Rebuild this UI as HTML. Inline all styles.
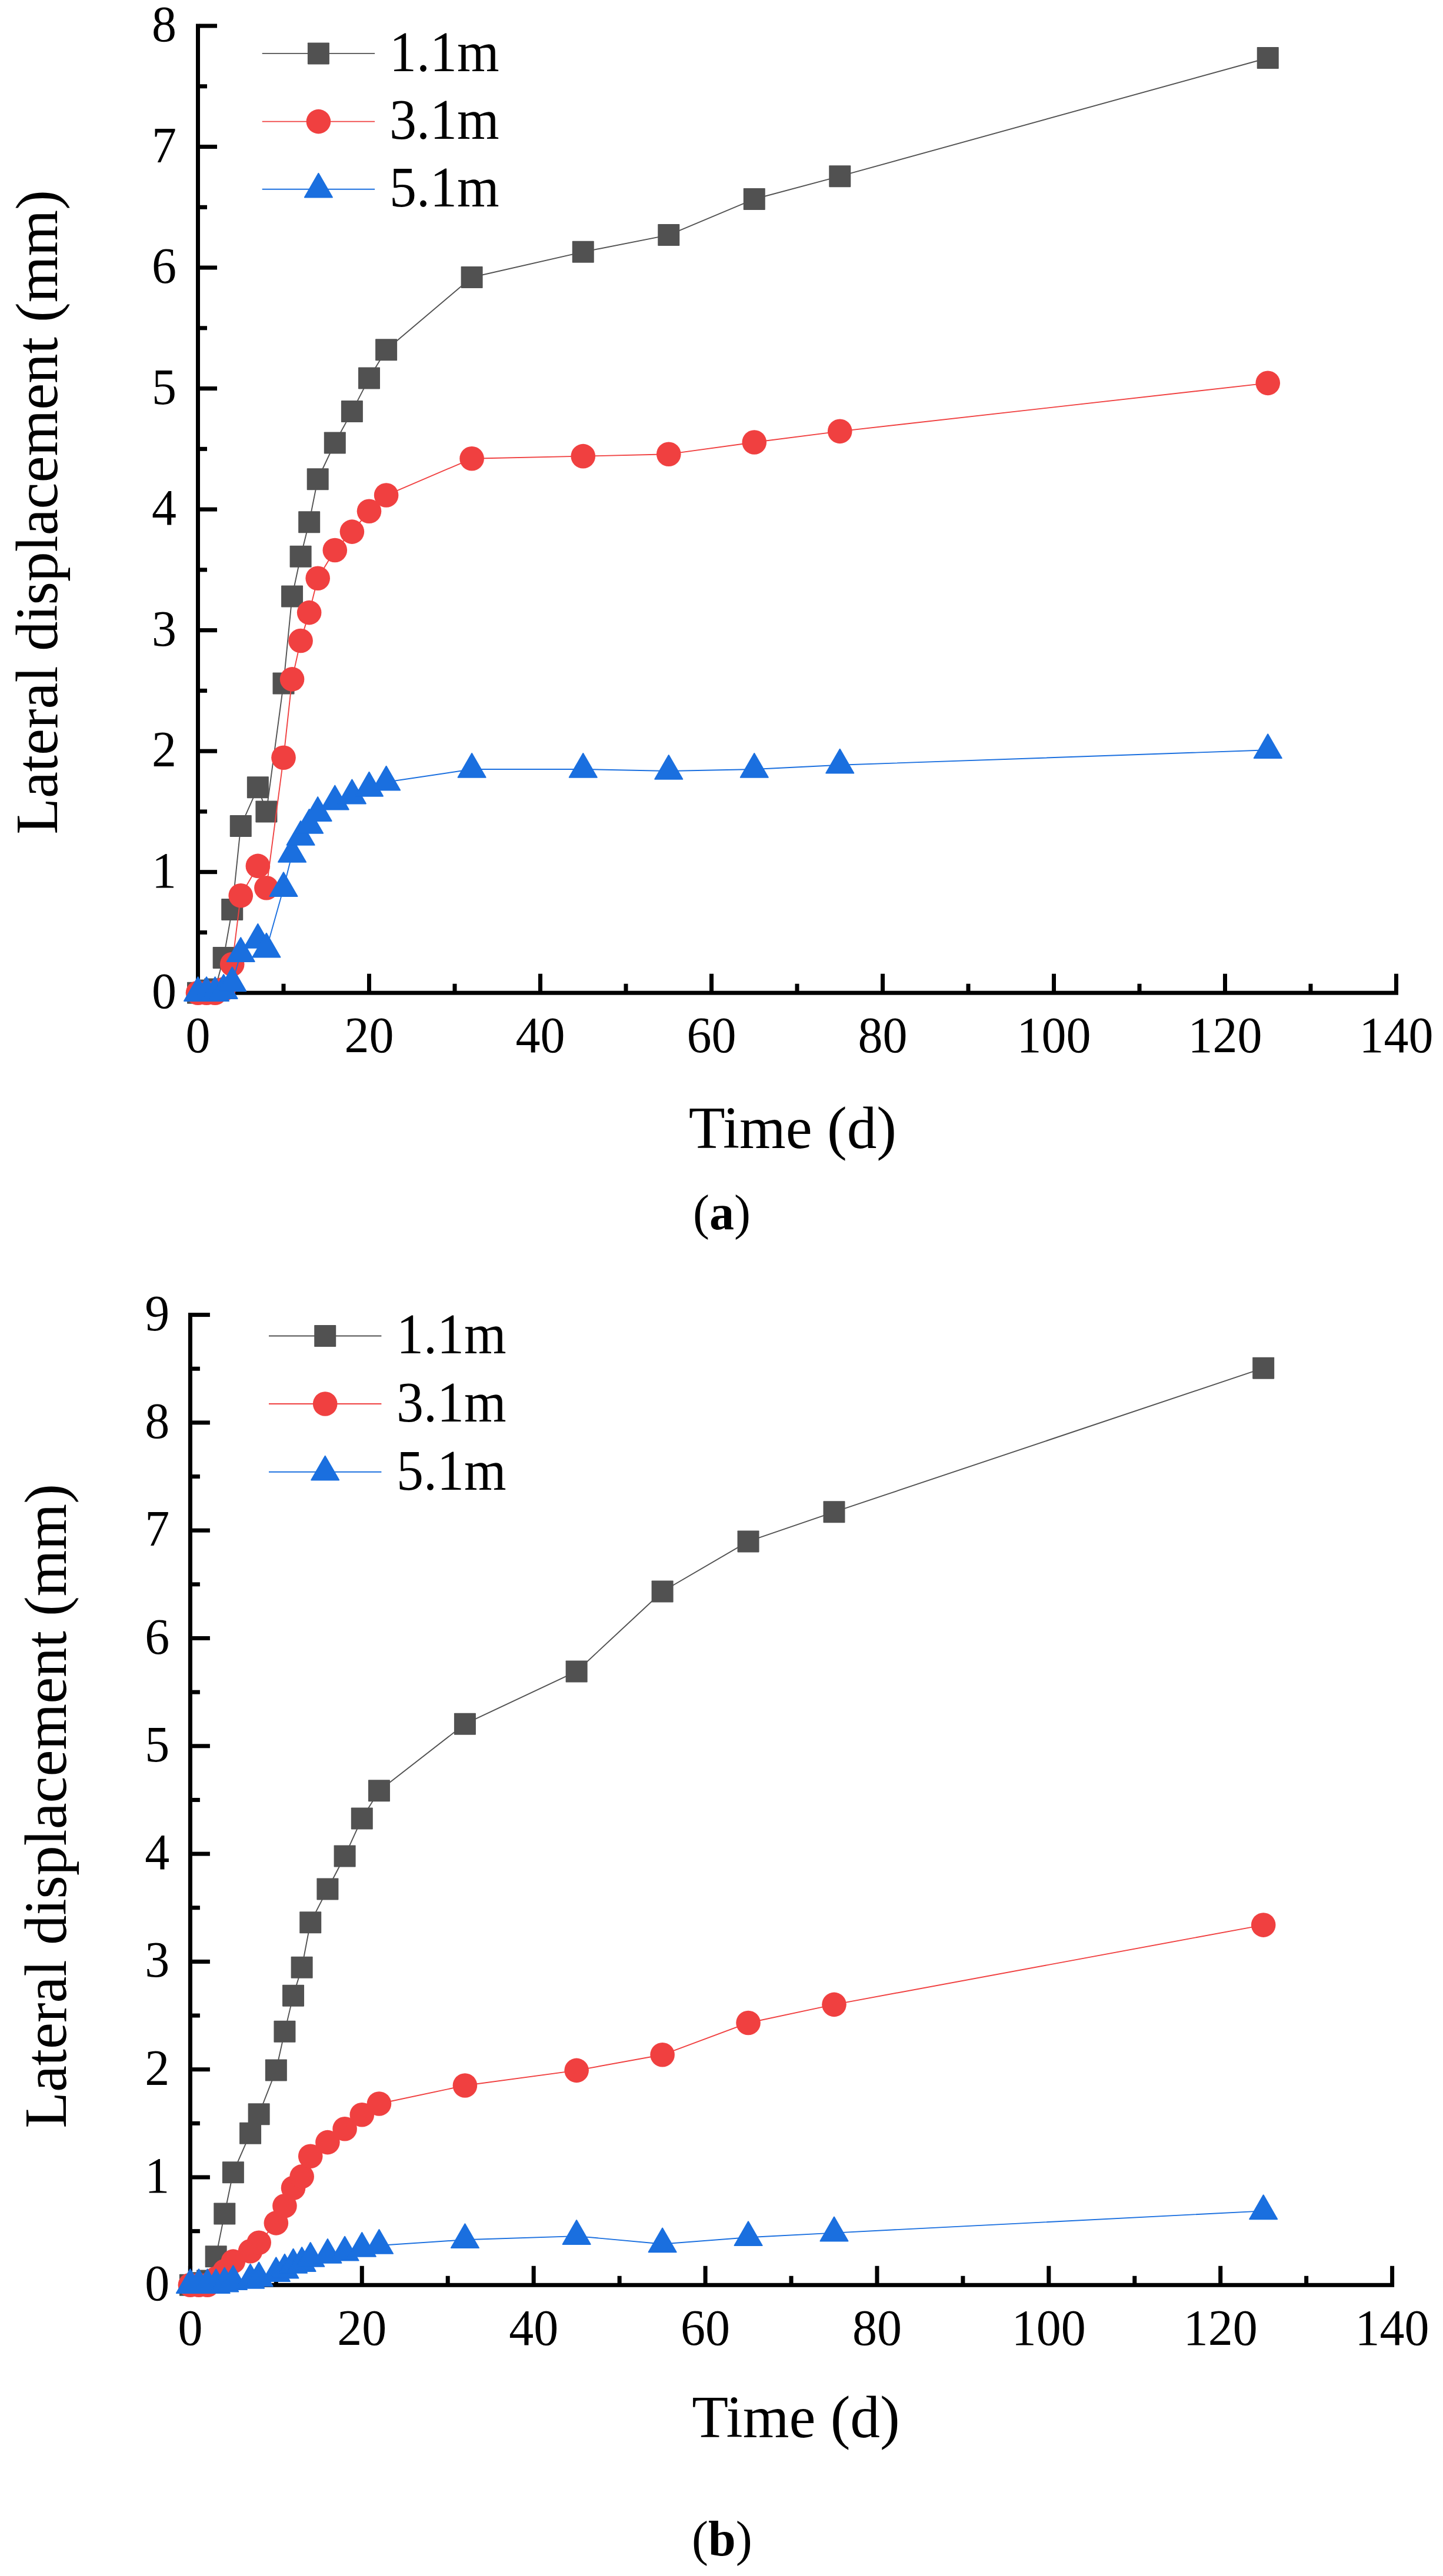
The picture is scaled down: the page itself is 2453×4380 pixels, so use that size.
<!DOCTYPE html>
<html lang="en"><head><meta charset="utf-8"><title>Lateral displacement versus time</title>
<style>html,body{margin:0;padding:0;background:#fff}body{width:2453px;height:4380px;overflow:hidden}svg{display:block}text{font-family:"Liberation Serif",serif;fill:#000}</style></head><body>
<svg width="2453" height="4380" viewBox="0 0 2453 4380">
<rect width="2453" height="4380" fill="#fff"/>
<g id="chart-a">
<g fill="#000">
<rect x="333" y="40.5" width="7" height="1651.2"/>
<rect x="333" y="1684.7" width="2044" height="7"/>
<rect x="339.5" y="1684.7" width="29.5" height="7"/>
<rect x="339.5" y="1581.94" width="12.5" height="7"/>
<rect x="339.5" y="1479.17" width="29.5" height="7"/>
<rect x="339.5" y="1376.41" width="12.5" height="7"/>
<rect x="339.5" y="1273.65" width="29.5" height="7"/>
<rect x="339.5" y="1170.89" width="12.5" height="7"/>
<rect x="339.5" y="1068.12" width="29.5" height="7"/>
<rect x="339.5" y="965.36" width="12.5" height="7"/>
<rect x="339.5" y="862.6" width="29.5" height="7"/>
<rect x="339.5" y="759.84" width="12.5" height="7"/>
<rect x="339.5" y="657.08" width="29.5" height="7"/>
<rect x="339.5" y="554.31" width="12.5" height="7"/>
<rect x="339.5" y="451.55" width="29.5" height="7"/>
<rect x="339.5" y="348.79" width="12.5" height="7"/>
<rect x="339.5" y="246.03" width="29.5" height="7"/>
<rect x="339.5" y="143.26" width="12.5" height="7"/>
<rect x="339.5" y="40.5" width="29.5" height="7"/>
<rect x="333" y="1655.7" width="7" height="29.5"/>
<rect x="478.5" y="1672.7" width="7" height="12.5"/>
<rect x="624" y="1655.7" width="7" height="29.5"/>
<rect x="769.5" y="1672.7" width="7" height="12.5"/>
<rect x="915" y="1655.7" width="7" height="29.5"/>
<rect x="1060.5" y="1672.7" width="7" height="12.5"/>
<rect x="1206" y="1655.7" width="7" height="29.5"/>
<rect x="1351.5" y="1672.7" width="7" height="12.5"/>
<rect x="1497" y="1655.7" width="7" height="29.5"/>
<rect x="1642.5" y="1672.7" width="7" height="12.5"/>
<rect x="1788" y="1655.7" width="7" height="29.5"/>
<rect x="1933.5" y="1672.7" width="7" height="12.5"/>
<rect x="2079" y="1655.7" width="7" height="29.5"/>
<rect x="2224.5" y="1672.7" width="7" height="12.5"/>
<rect x="2370" y="1655.7" width="7" height="29.5"/>
</g>
<g font-size="84" fill="#000">
<text transform="translate(299.9 1714.2) scale(1 1.035)" text-anchor="end">0</text>
<text transform="translate(299.9 1508.67) scale(1 1.035)" text-anchor="end">1</text>
<text transform="translate(299.9 1303.15) scale(1 1.035)" text-anchor="end">2</text>
<text transform="translate(299.9 1097.62) scale(1 1.035)" text-anchor="end">3</text>
<text transform="translate(299.9 892.1) scale(1 1.035)" text-anchor="end">4</text>
<text transform="translate(299.9 686.58) scale(1 1.035)" text-anchor="end">5</text>
<text transform="translate(299.9 481.05) scale(1 1.035)" text-anchor="end">6</text>
<text transform="translate(299.9 275.53) scale(1 1.035)" text-anchor="end">7</text>
<text transform="translate(299.9 70) scale(1 1.035)" text-anchor="end">8</text>
<text transform="translate(336.5 1789.4) scale(1 1.035)" text-anchor="middle">0</text>
<text transform="translate(627.5 1789.4) scale(1 1.035)" text-anchor="middle">20</text>
<text transform="translate(918.5 1789.4) scale(1 1.035)" text-anchor="middle">40</text>
<text transform="translate(1209.5 1789.4) scale(1 1.035)" text-anchor="middle">60</text>
<text transform="translate(1500.5 1789.4) scale(1 1.035)" text-anchor="middle">80</text>
<text transform="translate(1791.5 1789.4) scale(1 1.035)" text-anchor="middle">100</text>
<text transform="translate(2082.5 1789.4) scale(1 1.035)" text-anchor="middle">120</text>
<text transform="translate(2373.5 1789.4) scale(1 1.035)" text-anchor="middle">140</text>
</g>
<text font-size="101.2" text-anchor="middle" transform="translate(97 871) rotate(-90)">Lateral displacement (mm)</text>
<text font-size="101.2" text-anchor="middle" x="1347.4" y="1952.4">Time (d)</text>
<text font-size="84" text-anchor="middle" x="1227" y="2089.8">(<tspan font-weight="bold">a</tspan>)</text>
<polyline fill="none" stroke="#515151" stroke-width="1.9" stroke-linejoin="round" points="336.5,1688.2 351.05,1684.09 365.6,1682.03 380.15,1628.39 394.7,1546.39 409.25,1404.58 438.35,1338.81 452.9,1379.91 482,1162.06 496.55,1014.08 511.1,946.25 525.65,887.68 540.2,814.72 569.3,753.06 598.4,699.62 627.5,643.11 656.6,594.81 802.1,471.49 991.25,428.33 1136.75,399.56 1282.25,338.52 1427.75,299.67 2155.25,98.46"/>
<g><rect x="318" y="1669.7" width="37" height="37" rx="0.8" fill="#515151"/><rect x="332.55" y="1665.59" width="37" height="37" rx="0.8" fill="#515151"/><rect x="347.1" y="1663.53" width="37" height="37" rx="0.8" fill="#515151"/><rect x="361.65" y="1609.89" width="37" height="37" rx="0.8" fill="#515151"/><rect x="376.2" y="1527.89" width="37" height="37" rx="0.8" fill="#515151"/><rect x="390.75" y="1386.08" width="37" height="37" rx="0.8" fill="#515151"/><rect x="419.85" y="1320.31" width="37" height="37" rx="0.8" fill="#515151"/><rect x="434.4" y="1361.41" width="37" height="37" rx="0.8" fill="#515151"/><rect x="463.5" y="1143.56" width="37" height="37" rx="0.8" fill="#515151"/><rect x="478.05" y="995.58" width="37" height="37" rx="0.8" fill="#515151"/><rect x="492.6" y="927.75" width="37" height="37" rx="0.8" fill="#515151"/><rect x="507.15" y="869.18" width="37" height="37" rx="0.8" fill="#515151"/><rect x="521.7" y="796.22" width="37" height="37" rx="0.8" fill="#515151"/><rect x="550.8" y="734.56" width="37" height="37" rx="0.8" fill="#515151"/><rect x="579.9" y="681.12" width="37" height="37" rx="0.8" fill="#515151"/><rect x="609" y="624.61" width="37" height="37" rx="0.8" fill="#515151"/><rect x="638.1" y="576.31" width="37" height="37" rx="0.8" fill="#515151"/><rect x="783.6" y="452.99" width="37" height="37" rx="0.8" fill="#515151"/><rect x="972.75" y="409.83" width="37" height="37" rx="0.8" fill="#515151"/><rect x="1118.25" y="381.06" width="37" height="37" rx="0.8" fill="#515151"/><rect x="1263.75" y="320.02" width="37" height="37" rx="0.8" fill="#515151"/><rect x="1409.25" y="281.17" width="37" height="37" rx="0.8" fill="#515151"/><rect x="2136.75" y="79.96" width="37" height="37" rx="0.8" fill="#515151"/></g>
<polyline fill="none" stroke="#F04040" stroke-width="1.9" stroke-linejoin="round" points="336.5,1688.2 351.05,1688.2 365.6,1688.2 380.15,1682.03 394.7,1639.49 409.25,1522.75 438.35,1472.4 452.9,1509.8 482,1288.25 496.55,1154.86 511.1,1089.51 525.65,1041.62 540.2,983.25 569.3,935.57 598.4,904.12 627.5,869.18 656.6,842.05 802.1,779.78 991.25,775.67 1136.75,772.18 1282.25,752.03 1427.75,733.33 2155.25,651.33"/>
<g><circle cx="336.5" cy="1688.2" r="20.8" fill="#F04040"/><circle cx="351.05" cy="1688.2" r="20.8" fill="#F04040"/><circle cx="365.6" cy="1688.2" r="20.8" fill="#F04040"/><circle cx="380.15" cy="1682.03" r="20.8" fill="#F04040"/><circle cx="394.7" cy="1639.49" r="20.8" fill="#F04040"/><circle cx="409.25" cy="1522.75" r="20.8" fill="#F04040"/><circle cx="438.35" cy="1472.4" r="20.8" fill="#F04040"/><circle cx="452.9" cy="1509.8" r="20.8" fill="#F04040"/><circle cx="482" cy="1288.25" r="20.8" fill="#F04040"/><circle cx="496.55" cy="1154.86" r="20.8" fill="#F04040"/><circle cx="511.1" cy="1089.51" r="20.8" fill="#F04040"/><circle cx="525.65" cy="1041.62" r="20.8" fill="#F04040"/><circle cx="540.2" cy="983.25" r="20.8" fill="#F04040"/><circle cx="569.3" cy="935.57" r="20.8" fill="#F04040"/><circle cx="598.4" cy="904.12" r="20.8" fill="#F04040"/><circle cx="627.5" cy="869.18" r="20.8" fill="#F04040"/><circle cx="656.6" cy="842.05" r="20.8" fill="#F04040"/><circle cx="802.1" cy="779.78" r="20.8" fill="#F04040"/><circle cx="991.25" cy="775.67" r="20.8" fill="#F04040"/><circle cx="1136.75" cy="772.18" r="20.8" fill="#F04040"/><circle cx="1282.25" cy="752.03" r="20.8" fill="#F04040"/><circle cx="1427.75" cy="733.33" r="20.8" fill="#F04040"/><circle cx="2155.25" cy="651.33" r="20.8" fill="#F04040"/></g>
<polyline fill="none" stroke="#1A6FDF" stroke-width="1.9" stroke-linejoin="round" points="336.5,1688.2 351.05,1688.2 365.6,1688.2 380.15,1684.09 394.7,1671.55 409.25,1621.2 438.35,1597.97 452.9,1613.8 482,1510.22 496.55,1452.05 511.1,1423.07 525.65,1402.93 540.2,1382.17 569.3,1362.65 598.4,1352.58 627.5,1339.84 656.6,1329.76 802.1,1307.98 991.25,1307.98 1136.75,1311.06 1282.25,1307.98 1427.75,1300.79 2155.25,1275.3"/>
<g><path d="M336.5 1661.2L360 1702L313 1702Z" fill="#1A6FDF" stroke="#1A6FDF" stroke-width="2" stroke-linejoin="round"/><path d="M351.05 1661.2L374.55 1702L327.55 1702Z" fill="#1A6FDF" stroke="#1A6FDF" stroke-width="2" stroke-linejoin="round"/><path d="M365.6 1661.2L389.1 1702L342.1 1702Z" fill="#1A6FDF" stroke="#1A6FDF" stroke-width="2" stroke-linejoin="round"/><path d="M380.15 1657.09L403.65 1697.89L356.65 1697.89Z" fill="#1A6FDF" stroke="#1A6FDF" stroke-width="2" stroke-linejoin="round"/><path d="M394.7 1644.55L418.2 1685.35L371.2 1685.35Z" fill="#1A6FDF" stroke="#1A6FDF" stroke-width="2" stroke-linejoin="round"/><path d="M409.25 1594.2L432.75 1635L385.75 1635Z" fill="#1A6FDF" stroke="#1A6FDF" stroke-width="2" stroke-linejoin="round"/><path d="M438.35 1570.97L461.85 1611.77L414.85 1611.77Z" fill="#1A6FDF" stroke="#1A6FDF" stroke-width="2" stroke-linejoin="round"/><path d="M452.9 1586.8L476.4 1627.6L429.4 1627.6Z" fill="#1A6FDF" stroke="#1A6FDF" stroke-width="2" stroke-linejoin="round"/><path d="M482 1483.22L505.5 1524.02L458.5 1524.02Z" fill="#1A6FDF" stroke="#1A6FDF" stroke-width="2" stroke-linejoin="round"/><path d="M496.55 1425.05L520.05 1465.85L473.05 1465.85Z" fill="#1A6FDF" stroke="#1A6FDF" stroke-width="2" stroke-linejoin="round"/><path d="M511.1 1396.07L534.6 1436.87L487.6 1436.87Z" fill="#1A6FDF" stroke="#1A6FDF" stroke-width="2" stroke-linejoin="round"/><path d="M525.65 1375.93L549.15 1416.73L502.15 1416.73Z" fill="#1A6FDF" stroke="#1A6FDF" stroke-width="2" stroke-linejoin="round"/><path d="M540.2 1355.17L563.7 1395.97L516.7 1395.97Z" fill="#1A6FDF" stroke="#1A6FDF" stroke-width="2" stroke-linejoin="round"/><path d="M569.3 1335.65L592.8 1376.45L545.8 1376.45Z" fill="#1A6FDF" stroke="#1A6FDF" stroke-width="2" stroke-linejoin="round"/><path d="M598.4 1325.58L621.9 1366.38L574.9 1366.38Z" fill="#1A6FDF" stroke="#1A6FDF" stroke-width="2" stroke-linejoin="round"/><path d="M627.5 1312.84L651 1353.64L604 1353.64Z" fill="#1A6FDF" stroke="#1A6FDF" stroke-width="2" stroke-linejoin="round"/><path d="M656.6 1302.76L680.1 1343.56L633.1 1343.56Z" fill="#1A6FDF" stroke="#1A6FDF" stroke-width="2" stroke-linejoin="round"/><path d="M802.1 1280.98L825.6 1321.78L778.6 1321.78Z" fill="#1A6FDF" stroke="#1A6FDF" stroke-width="2" stroke-linejoin="round"/><path d="M991.25 1280.98L1014.75 1321.78L967.75 1321.78Z" fill="#1A6FDF" stroke="#1A6FDF" stroke-width="2" stroke-linejoin="round"/><path d="M1136.75 1284.06L1160.25 1324.86L1113.25 1324.86Z" fill="#1A6FDF" stroke="#1A6FDF" stroke-width="2" stroke-linejoin="round"/><path d="M1282.25 1280.98L1305.75 1321.78L1258.75 1321.78Z" fill="#1A6FDF" stroke="#1A6FDF" stroke-width="2" stroke-linejoin="round"/><path d="M1427.75 1273.79L1451.25 1314.59L1404.25 1314.59Z" fill="#1A6FDF" stroke="#1A6FDF" stroke-width="2" stroke-linejoin="round"/><path d="M2155.25 1248.3L2178.75 1289.1L2131.75 1289.1Z" fill="#1A6FDF" stroke="#1A6FDF" stroke-width="2" stroke-linejoin="round"/></g>
<g font-size="92" fill="#000">
<line x1="445.7" y1="90.9" x2="637.1" y2="90.9" stroke="#515151" stroke-width="1.9"/>
<rect x="522.9" y="72.4" width="37" height="37" rx="0.8" fill="#515151"/>
<text transform="translate(662 120.5) scale(1 1.05)">1.1m</text>
<line x1="445.7" y1="206.6" x2="637.1" y2="206.6" stroke="#F04040" stroke-width="1.9"/>
<circle cx="541.4" cy="206.6" r="20.8" fill="#F04040"/>
<text transform="translate(662 235.6) scale(1 1.05)">3.1m</text>
<line x1="445.7" y1="321.8" x2="637.1" y2="321.8" stroke="#1A6FDF" stroke-width="1.9"/>
<path d="M541.4 294.8L564.9 335.6L517.9 335.6Z" fill="#1A6FDF" stroke="#1A6FDF" stroke-width="2" stroke-linejoin="round"/>
<text transform="translate(662 351) scale(1 1.05)">5.1m</text>
</g>
</g>
<g id="chart-b">
<g fill="#000">
<rect x="319.9" y="2232.1" width="7" height="1656.7"/>
<rect x="319.9" y="3881.8" width="2050.2" height="7"/>
<rect x="326.4" y="3881.8" width="30.5" height="7"/>
<rect x="326.4" y="3790.15" width="13.5" height="7"/>
<rect x="326.4" y="3698.5" width="30.5" height="7"/>
<rect x="326.4" y="3606.85" width="13.5" height="7"/>
<rect x="326.4" y="3515.2" width="30.5" height="7"/>
<rect x="326.4" y="3423.55" width="13.5" height="7"/>
<rect x="326.4" y="3331.9" width="30.5" height="7"/>
<rect x="326.4" y="3240.25" width="13.5" height="7"/>
<rect x="326.4" y="3148.6" width="30.5" height="7"/>
<rect x="326.4" y="3056.95" width="13.5" height="7"/>
<rect x="326.4" y="2965.3" width="30.5" height="7"/>
<rect x="326.4" y="2873.65" width="13.5" height="7"/>
<rect x="326.4" y="2782" width="30.5" height="7"/>
<rect x="326.4" y="2690.35" width="13.5" height="7"/>
<rect x="326.4" y="2598.7" width="30.5" height="7"/>
<rect x="326.4" y="2507.05" width="13.5" height="7"/>
<rect x="326.4" y="2415.4" width="30.5" height="7"/>
<rect x="326.4" y="2323.75" width="13.5" height="7"/>
<rect x="326.4" y="2232.1" width="30.5" height="7"/>
<rect x="319.9" y="3852.8" width="7" height="29.5"/>
<rect x="465.84" y="3869.8" width="7" height="12.5"/>
<rect x="611.79" y="3852.8" width="7" height="29.5"/>
<rect x="757.73" y="3869.8" width="7" height="12.5"/>
<rect x="903.67" y="3852.8" width="7" height="29.5"/>
<rect x="1049.61" y="3869.8" width="7" height="12.5"/>
<rect x="1195.56" y="3852.8" width="7" height="29.5"/>
<rect x="1341.5" y="3869.8" width="7" height="12.5"/>
<rect x="1487.44" y="3852.8" width="7" height="29.5"/>
<rect x="1633.39" y="3869.8" width="7" height="12.5"/>
<rect x="1779.33" y="3852.8" width="7" height="29.5"/>
<rect x="1925.27" y="3869.8" width="7" height="12.5"/>
<rect x="2071.21" y="3852.8" width="7" height="29.5"/>
<rect x="2217.16" y="3869.8" width="7" height="12.5"/>
<rect x="2363.1" y="3852.8" width="7" height="29.5"/>
</g>
<g font-size="84" fill="#000">
<text transform="translate(288.2 3911.3) scale(1 1.035)" text-anchor="end">0</text>
<text transform="translate(288.2 3728) scale(1 1.035)" text-anchor="end">1</text>
<text transform="translate(288.2 3544.7) scale(1 1.035)" text-anchor="end">2</text>
<text transform="translate(288.2 3361.4) scale(1 1.035)" text-anchor="end">3</text>
<text transform="translate(288.2 3178.1) scale(1 1.035)" text-anchor="end">4</text>
<text transform="translate(288.2 2994.8) scale(1 1.035)" text-anchor="end">5</text>
<text transform="translate(288.2 2811.5) scale(1 1.035)" text-anchor="end">6</text>
<text transform="translate(288.2 2628.2) scale(1 1.035)" text-anchor="end">7</text>
<text transform="translate(288.2 2444.9) scale(1 1.035)" text-anchor="end">8</text>
<text transform="translate(288.2 2261.6) scale(1 1.035)" text-anchor="end">9</text>
<text transform="translate(323.4 3986.5) scale(1 1.035)" text-anchor="middle">0</text>
<text transform="translate(615.29 3986.5) scale(1 1.035)" text-anchor="middle">20</text>
<text transform="translate(907.17 3986.5) scale(1 1.035)" text-anchor="middle">40</text>
<text transform="translate(1199.06 3986.5) scale(1 1.035)" text-anchor="middle">60</text>
<text transform="translate(1490.94 3986.5) scale(1 1.035)" text-anchor="middle">80</text>
<text transform="translate(1782.83 3986.5) scale(1 1.035)" text-anchor="middle">100</text>
<text transform="translate(2074.71 3986.5) scale(1 1.035)" text-anchor="middle">120</text>
<text transform="translate(2366.6 3986.5) scale(1 1.035)" text-anchor="middle">140</text>
</g>
<text font-size="101.2" text-anchor="middle" transform="translate(112 3071) rotate(-90)">Lateral displacement (mm)</text>
<text font-size="101.2" text-anchor="middle" x="1353" y="4144">Time (d)</text>
<text font-size="84" text-anchor="middle" x="1227.4" y="4345">(<tspan font-weight="bold">b</tspan>)</text>
<polyline fill="none" stroke="#515151" stroke-width="1.9" stroke-linejoin="round" points="323.4,3885.3 337.99,3881.63 352.59,3877.97 367.18,3836.73 381.78,3763.96 396.37,3693.75 425.56,3627.21 440.15,3594.77 469.34,3519.98 483.94,3454.36 498.53,3393.14 513.13,3345.3 527.72,3268.86 556.91,3212.04 586.1,3155.95 615.29,3091.98 644.47,3044.87 790.42,2931.22 980.14,2841.96 1126.09,2705.95 1272.03,2620.9 1417.97,2570.86 2147.69,2326.15"/>
<g><rect x="304.9" y="3866.8" width="37" height="37" rx="0.8" fill="#515151"/><rect x="319.49" y="3863.13" width="37" height="37" rx="0.8" fill="#515151"/><rect x="334.09" y="3859.47" width="37" height="37" rx="0.8" fill="#515151"/><rect x="348.68" y="3818.23" width="37" height="37" rx="0.8" fill="#515151"/><rect x="363.28" y="3745.46" width="37" height="37" rx="0.8" fill="#515151"/><rect x="377.87" y="3675.25" width="37" height="37" rx="0.8" fill="#515151"/><rect x="407.06" y="3608.71" width="37" height="37" rx="0.8" fill="#515151"/><rect x="421.65" y="3576.27" width="37" height="37" rx="0.8" fill="#515151"/><rect x="450.84" y="3501.48" width="37" height="37" rx="0.8" fill="#515151"/><rect x="465.44" y="3435.86" width="37" height="37" rx="0.8" fill="#515151"/><rect x="480.03" y="3374.64" width="37" height="37" rx="0.8" fill="#515151"/><rect x="494.63" y="3326.8" width="37" height="37" rx="0.8" fill="#515151"/><rect x="509.22" y="3250.36" width="37" height="37" rx="0.8" fill="#515151"/><rect x="538.41" y="3193.54" width="37" height="37" rx="0.8" fill="#515151"/><rect x="567.6" y="3137.45" width="37" height="37" rx="0.8" fill="#515151"/><rect x="596.79" y="3073.48" width="37" height="37" rx="0.8" fill="#515151"/><rect x="625.97" y="3026.37" width="37" height="37" rx="0.8" fill="#515151"/><rect x="771.92" y="2912.72" width="37" height="37" rx="0.8" fill="#515151"/><rect x="961.64" y="2823.46" width="37" height="37" rx="0.8" fill="#515151"/><rect x="1107.59" y="2687.45" width="37" height="37" rx="0.8" fill="#515151"/><rect x="1253.53" y="2602.4" width="37" height="37" rx="0.8" fill="#515151"/><rect x="1399.47" y="2552.36" width="37" height="37" rx="0.8" fill="#515151"/><rect x="2129.19" y="2307.65" width="37" height="37" rx="0.8" fill="#515151"/></g>
<polyline fill="none" stroke="#F04040" stroke-width="1.9" stroke-linejoin="round" points="323.4,3885.3 337.99,3885.3 352.59,3885.3 367.18,3874.3 381.78,3861.84 396.37,3845.16 425.56,3827.74 440.15,3813.26 469.34,3779.9 483.94,3750.76 498.53,3720.33 513.13,3700.9 527.72,3666.26 556.91,3642.61 586.1,3619.7 615.29,3595.69 644.47,3576.99 790.42,3546.01 980.14,3520.35 1126.09,3493.77 1272.03,3439.51 1417.97,3408.35 2147.69,3273.08"/>
<g><circle cx="323.4" cy="3885.3" r="20.8" fill="#F04040"/><circle cx="337.99" cy="3885.3" r="20.8" fill="#F04040"/><circle cx="352.59" cy="3885.3" r="20.8" fill="#F04040"/><circle cx="367.18" cy="3874.3" r="20.8" fill="#F04040"/><circle cx="381.78" cy="3861.84" r="20.8" fill="#F04040"/><circle cx="396.37" cy="3845.16" r="20.8" fill="#F04040"/><circle cx="425.56" cy="3827.74" r="20.8" fill="#F04040"/><circle cx="440.15" cy="3813.26" r="20.8" fill="#F04040"/><circle cx="469.34" cy="3779.9" r="20.8" fill="#F04040"/><circle cx="483.94" cy="3750.76" r="20.8" fill="#F04040"/><circle cx="498.53" cy="3720.33" r="20.8" fill="#F04040"/><circle cx="513.13" cy="3700.9" r="20.8" fill="#F04040"/><circle cx="527.72" cy="3666.26" r="20.8" fill="#F04040"/><circle cx="556.91" cy="3642.61" r="20.8" fill="#F04040"/><circle cx="586.1" cy="3619.7" r="20.8" fill="#F04040"/><circle cx="615.29" cy="3595.69" r="20.8" fill="#F04040"/><circle cx="644.47" cy="3576.99" r="20.8" fill="#F04040"/><circle cx="790.42" cy="3546.01" r="20.8" fill="#F04040"/><circle cx="980.14" cy="3520.35" r="20.8" fill="#F04040"/><circle cx="1126.09" cy="3493.77" r="20.8" fill="#F04040"/><circle cx="1272.03" cy="3439.51" r="20.8" fill="#F04040"/><circle cx="1417.97" cy="3408.35" r="20.8" fill="#F04040"/><circle cx="2147.69" cy="3273.08" r="20.8" fill="#F04040"/></g>
<polyline fill="none" stroke="#1A6FDF" stroke-width="1.9" stroke-linejoin="round" points="323.4,3885.3 337.99,3885.3 352.59,3885.3 367.18,3885.3 381.78,3882.73 396.37,3879.25 425.56,3876.87 440.15,3873.57 469.34,3865.32 483.94,3859.82 498.53,3850.84 513.13,3848.09 527.72,3840.02 556.91,3833.98 586.1,3829.76 615.29,3822.98 644.47,3818.03 790.42,3808.31 980.14,3802.08 1126.09,3815.46 1272.03,3804.28 1417.97,3796.58 2147.69,3759.37"/>
<g><path d="M323.4 3858.3L346.9 3899.1L299.9 3899.1Z" fill="#1A6FDF" stroke="#1A6FDF" stroke-width="2" stroke-linejoin="round"/><path d="M337.99 3858.3L361.49 3899.1L314.49 3899.1Z" fill="#1A6FDF" stroke="#1A6FDF" stroke-width="2" stroke-linejoin="round"/><path d="M352.59 3858.3L376.09 3899.1L329.09 3899.1Z" fill="#1A6FDF" stroke="#1A6FDF" stroke-width="2" stroke-linejoin="round"/><path d="M367.18 3858.3L390.68 3899.1L343.68 3899.1Z" fill="#1A6FDF" stroke="#1A6FDF" stroke-width="2" stroke-linejoin="round"/><path d="M381.78 3855.73L405.28 3896.53L358.28 3896.53Z" fill="#1A6FDF" stroke="#1A6FDF" stroke-width="2" stroke-linejoin="round"/><path d="M396.37 3852.25L419.87 3893.05L372.87 3893.05Z" fill="#1A6FDF" stroke="#1A6FDF" stroke-width="2" stroke-linejoin="round"/><path d="M425.56 3849.87L449.06 3890.67L402.06 3890.67Z" fill="#1A6FDF" stroke="#1A6FDF" stroke-width="2" stroke-linejoin="round"/><path d="M440.15 3846.57L463.65 3887.37L416.65 3887.37Z" fill="#1A6FDF" stroke="#1A6FDF" stroke-width="2" stroke-linejoin="round"/><path d="M469.34 3838.32L492.84 3879.12L445.84 3879.12Z" fill="#1A6FDF" stroke="#1A6FDF" stroke-width="2" stroke-linejoin="round"/><path d="M483.94 3832.82L507.44 3873.62L460.44 3873.62Z" fill="#1A6FDF" stroke="#1A6FDF" stroke-width="2" stroke-linejoin="round"/><path d="M498.53 3823.84L522.03 3864.64L475.03 3864.64Z" fill="#1A6FDF" stroke="#1A6FDF" stroke-width="2" stroke-linejoin="round"/><path d="M513.13 3821.09L536.63 3861.89L489.63 3861.89Z" fill="#1A6FDF" stroke="#1A6FDF" stroke-width="2" stroke-linejoin="round"/><path d="M527.72 3813.02L551.22 3853.82L504.22 3853.82Z" fill="#1A6FDF" stroke="#1A6FDF" stroke-width="2" stroke-linejoin="round"/><path d="M556.91 3806.98L580.41 3847.78L533.41 3847.78Z" fill="#1A6FDF" stroke="#1A6FDF" stroke-width="2" stroke-linejoin="round"/><path d="M586.1 3802.76L609.6 3843.56L562.6 3843.56Z" fill="#1A6FDF" stroke="#1A6FDF" stroke-width="2" stroke-linejoin="round"/><path d="M615.29 3795.98L638.79 3836.78L591.79 3836.78Z" fill="#1A6FDF" stroke="#1A6FDF" stroke-width="2" stroke-linejoin="round"/><path d="M644.47 3791.03L667.97 3831.83L620.97 3831.83Z" fill="#1A6FDF" stroke="#1A6FDF" stroke-width="2" stroke-linejoin="round"/><path d="M790.42 3781.31L813.92 3822.11L766.92 3822.11Z" fill="#1A6FDF" stroke="#1A6FDF" stroke-width="2" stroke-linejoin="round"/><path d="M980.14 3775.08L1003.64 3815.88L956.64 3815.88Z" fill="#1A6FDF" stroke="#1A6FDF" stroke-width="2" stroke-linejoin="round"/><path d="M1126.09 3788.46L1149.59 3829.26L1102.59 3829.26Z" fill="#1A6FDF" stroke="#1A6FDF" stroke-width="2" stroke-linejoin="round"/><path d="M1272.03 3777.28L1295.53 3818.08L1248.53 3818.08Z" fill="#1A6FDF" stroke="#1A6FDF" stroke-width="2" stroke-linejoin="round"/><path d="M1417.97 3769.58L1441.47 3810.38L1394.47 3810.38Z" fill="#1A6FDF" stroke="#1A6FDF" stroke-width="2" stroke-linejoin="round"/><path d="M2147.69 3732.37L2171.19 3773.17L2124.19 3773.17Z" fill="#1A6FDF" stroke="#1A6FDF" stroke-width="2" stroke-linejoin="round"/></g>
<g font-size="92" fill="#000">
<line x1="457" y1="2271.5" x2="648.4" y2="2271.5" stroke="#515151" stroke-width="1.9"/>
<rect x="534.2" y="2253" width="37" height="37" rx="0.8" fill="#515151"/>
<text transform="translate(674 2300.8) scale(1 1.05)">1.1m</text>
<line x1="457" y1="2387" x2="648.4" y2="2387" stroke="#F04040" stroke-width="1.9"/>
<circle cx="552.7" cy="2387" r="20.8" fill="#F04040"/>
<text transform="translate(674 2416.9) scale(1 1.05)">3.1m</text>
<line x1="457" y1="2502.7" x2="648.4" y2="2502.7" stroke="#1A6FDF" stroke-width="1.9"/>
<path d="M552.7 2475.7L576.2 2516.5L529.2 2516.5Z" fill="#1A6FDF" stroke="#1A6FDF" stroke-width="2" stroke-linejoin="round"/>
<text transform="translate(674 2532.7) scale(1 1.05)">5.1m</text>
</g>
</g>
</svg></body></html>
